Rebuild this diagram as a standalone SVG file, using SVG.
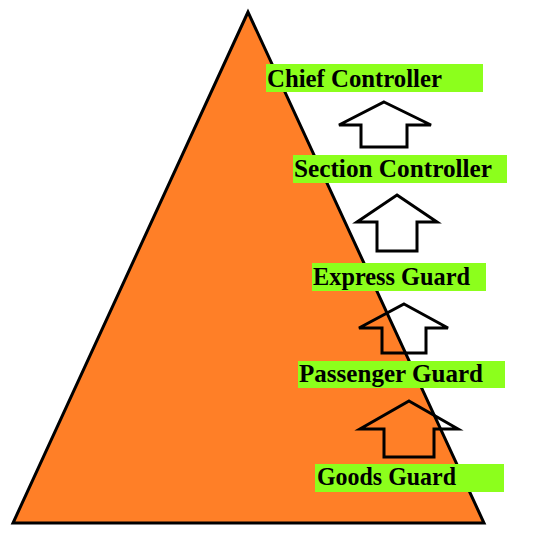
<svg xmlns="http://www.w3.org/2000/svg" width="536" height="541" viewBox="0 0 536 541">
<style>
.lbl{fill:#8CFF1C}
.t{font-family:"Liberation Serif","Times New Roman",serif;font-weight:bold;font-size:25px;fill:#000}
.arr{fill:none;stroke:#000;stroke-width:3;stroke-linejoin:miter}
</style>
<rect width="536" height="541" fill="#fff"/>
<g id="pyramid">
<polygon points="248,12 13,523 484,523" fill="#FF7F27" stroke="#000" stroke-width="3" stroke-linejoin="miter"/>
</g>
<g id="connectors">
<polygon class="arr" points="384,102 431,125 407,125 407,147 361,147 361,125 339,125"/>
<polygon class="arr" points="397,195 437,222 417,222 417,251 377,251 377,222 357,222"/>
<polygon class="arr" points="404,304 448,328 426,328 426,353 382,353 382,328 359,328"/>
<polygon class="arr" points="409,401 458,429 434,429 434,457 384,457 384,429 360,429"/>
</g>
<g id="chief-controller">
<rect class="lbl" x="266" y="64" width="217" height="28"/>
<text class="t" x="267" y="87" textLength="175" lengthAdjust="spacingAndGlyphs">Chief Controller</text>
</g>
<g id="section-controller">
<rect class="lbl" x="293" y="155" width="214" height="28"/>
<text class="t" x="294" y="177" textLength="198" lengthAdjust="spacingAndGlyphs">Section Controller</text>
</g>
<g id="express-guard">
<rect class="lbl" x="312" y="263" width="174" height="28"/>
<text class="t" x="313" y="285" textLength="157" lengthAdjust="spacingAndGlyphs">Express Guard</text>
</g>
<g id="passenger-guard">
<rect class="lbl" x="298" y="361" width="207" height="27"/>
<text class="t" x="299" y="382" textLength="184" lengthAdjust="spacingAndGlyphs">Passenger Guard</text>
</g>
<g id="goods-guard">
<rect class="lbl" x="315" y="464" width="189" height="28"/>
<text class="t" x="317" y="485" textLength="139" lengthAdjust="spacingAndGlyphs">Goods Guard</text>
</g>
</svg>
